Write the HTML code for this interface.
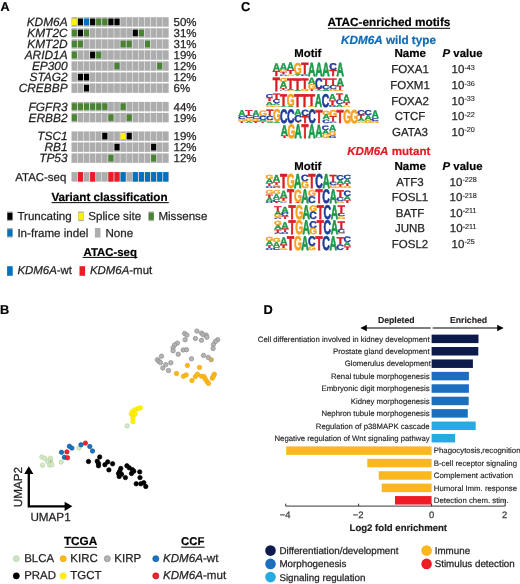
<!DOCTYPE html>
<html lang="en">
<head>
<meta charset="utf-8">
<title>Figure</title>
<style>
html,body{margin:0;padding:0;background:#fff;}
body{width:520px;height:584px;overflow:hidden;}
svg{display:block;font-family:"Liberation Sans", sans-serif;text-rendering:geometricPrecision;filter:blur(0.45px);}
.lg text{vector-effect:non-scaling-stroke;stroke-width:.4px}
.a{fill:#1a9a48;stroke:#1a9a48}.c{fill:#1f3c97;stroke:#1f3c97}.g{fill:#f6a21c;stroke:#f6a21c}.t{fill:#d81f26;stroke:#d81f26}
</style>
</head>
<body>
<svg width="520" height="584" viewBox="0 0 520 584">
<rect width="520" height="584" fill="#ffffff"/>
<g id="panelA">
<text x="0.40" y="11.10" font-size="12.6" font-weight="bold" fill="#000" stroke="#000" stroke-width="0.2">A</text>
<text x="67.60" y="26.20" font-size="11.9" text-anchor="end" font-style="italic" fill="#231f20" stroke="#231f20" stroke-width="0.25">KDM6A</text>
<text x="173.50" y="26.20" font-size="11.5" fill="#231f20" stroke="#231f20" stroke-width="0.25">50%</text>
<rect x="71.50" y="17.20" width="5.65" height="9.45" fill="#adadad"/>
<rect x="77.60" y="17.20" width="5.65" height="9.45" fill="#adadad"/>
<rect x="83.70" y="17.20" width="5.65" height="9.45" fill="#adadad"/>
<rect x="89.80" y="17.20" width="5.65" height="9.45" fill="#adadad"/>
<rect x="95.90" y="17.20" width="5.65" height="9.45" fill="#adadad"/>
<rect x="102.00" y="17.20" width="5.65" height="9.45" fill="#adadad"/>
<rect x="108.10" y="17.20" width="5.65" height="9.45" fill="#adadad"/>
<rect x="114.20" y="17.20" width="5.65" height="9.45" fill="#adadad"/>
<rect x="120.30" y="17.20" width="5.65" height="9.45" fill="#adadad"/>
<rect x="126.40" y="17.20" width="5.65" height="9.45" fill="#adadad"/>
<rect x="132.50" y="17.20" width="5.65" height="9.45" fill="#adadad"/>
<rect x="138.60" y="17.20" width="5.65" height="9.45" fill="#adadad"/>
<rect x="144.70" y="17.20" width="5.65" height="9.45" fill="#adadad"/>
<rect x="150.80" y="17.20" width="5.65" height="9.45" fill="#adadad"/>
<rect x="156.90" y="17.20" width="5.65" height="9.45" fill="#adadad"/>
<rect x="163.00" y="17.20" width="5.65" height="9.45" fill="#adadad"/>
<rect x="71.80" y="18.70" width="5.05" height="6.45" fill="#fff200"/>
<rect x="77.90" y="18.70" width="5.05" height="6.45" fill="#000000"/>
<rect x="84.00" y="18.70" width="5.05" height="6.45" fill="#0071bc"/>
<rect x="90.10" y="18.70" width="5.05" height="6.45" fill="#000000"/>
<rect x="96.20" y="18.70" width="5.05" height="6.45" fill="#488431"/>
<rect x="102.30" y="18.70" width="5.05" height="6.45" fill="#488431"/>
<rect x="108.40" y="18.70" width="5.05" height="6.45" fill="#000000"/>
<rect x="114.50" y="18.70" width="5.05" height="6.45" fill="#000000"/>
<text x="67.60" y="37.25" font-size="11.9" text-anchor="end" font-style="italic" fill="#231f20" stroke="#231f20" stroke-width="0.25">KMT2C</text>
<text x="173.50" y="37.25" font-size="11.5" fill="#231f20" stroke="#231f20" stroke-width="0.25">31%</text>
<rect x="71.50" y="28.25" width="5.65" height="9.45" fill="#adadad"/>
<rect x="77.60" y="28.25" width="5.65" height="9.45" fill="#adadad"/>
<rect x="83.70" y="28.25" width="5.65" height="9.45" fill="#adadad"/>
<rect x="89.80" y="28.25" width="5.65" height="9.45" fill="#adadad"/>
<rect x="95.90" y="28.25" width="5.65" height="9.45" fill="#adadad"/>
<rect x="102.00" y="28.25" width="5.65" height="9.45" fill="#adadad"/>
<rect x="108.10" y="28.25" width="5.65" height="9.45" fill="#adadad"/>
<rect x="114.20" y="28.25" width="5.65" height="9.45" fill="#adadad"/>
<rect x="120.30" y="28.25" width="5.65" height="9.45" fill="#adadad"/>
<rect x="126.40" y="28.25" width="5.65" height="9.45" fill="#adadad"/>
<rect x="132.50" y="28.25" width="5.65" height="9.45" fill="#adadad"/>
<rect x="138.60" y="28.25" width="5.65" height="9.45" fill="#adadad"/>
<rect x="144.70" y="28.25" width="5.65" height="9.45" fill="#adadad"/>
<rect x="150.80" y="28.25" width="5.65" height="9.45" fill="#adadad"/>
<rect x="156.90" y="28.25" width="5.65" height="9.45" fill="#adadad"/>
<rect x="163.00" y="28.25" width="5.65" height="9.45" fill="#adadad"/>
<rect x="71.80" y="29.75" width="5.05" height="6.45" fill="#488431"/>
<rect x="77.90" y="29.75" width="5.05" height="6.45" fill="#000000"/>
<rect x="84.00" y="29.75" width="5.05" height="6.45" fill="#488431"/>
<rect x="132.80" y="29.75" width="5.05" height="6.45" fill="#000000"/>
<rect x="138.90" y="29.75" width="5.05" height="6.45" fill="#488431"/>
<text x="67.60" y="48.30" font-size="11.9" text-anchor="end" font-style="italic" fill="#231f20" stroke="#231f20" stroke-width="0.25">KMT2D</text>
<text x="173.50" y="48.30" font-size="11.5" fill="#231f20" stroke="#231f20" stroke-width="0.25">31%</text>
<rect x="71.50" y="39.30" width="5.65" height="9.45" fill="#adadad"/>
<rect x="77.60" y="39.30" width="5.65" height="9.45" fill="#adadad"/>
<rect x="83.70" y="39.30" width="5.65" height="9.45" fill="#adadad"/>
<rect x="89.80" y="39.30" width="5.65" height="9.45" fill="#adadad"/>
<rect x="95.90" y="39.30" width="5.65" height="9.45" fill="#adadad"/>
<rect x="102.00" y="39.30" width="5.65" height="9.45" fill="#adadad"/>
<rect x="108.10" y="39.30" width="5.65" height="9.45" fill="#adadad"/>
<rect x="114.20" y="39.30" width="5.65" height="9.45" fill="#adadad"/>
<rect x="120.30" y="39.30" width="5.65" height="9.45" fill="#adadad"/>
<rect x="126.40" y="39.30" width="5.65" height="9.45" fill="#adadad"/>
<rect x="132.50" y="39.30" width="5.65" height="9.45" fill="#adadad"/>
<rect x="138.60" y="39.30" width="5.65" height="9.45" fill="#adadad"/>
<rect x="144.70" y="39.30" width="5.65" height="9.45" fill="#adadad"/>
<rect x="150.80" y="39.30" width="5.65" height="9.45" fill="#adadad"/>
<rect x="156.90" y="39.30" width="5.65" height="9.45" fill="#adadad"/>
<rect x="163.00" y="39.30" width="5.65" height="9.45" fill="#adadad"/>
<rect x="71.80" y="40.80" width="5.05" height="6.45" fill="#488431"/>
<rect x="77.90" y="40.80" width="5.05" height="6.45" fill="#488431"/>
<rect x="120.60" y="40.80" width="5.05" height="6.45" fill="#488431"/>
<rect x="126.70" y="40.80" width="5.05" height="6.45" fill="#488431"/>
<rect x="145.00" y="40.80" width="5.05" height="6.45" fill="#488431"/>
<text x="67.60" y="59.30" font-size="11.9" text-anchor="end" font-style="italic" fill="#231f20" stroke="#231f20" stroke-width="0.25">ARID1A</text>
<text x="173.50" y="59.30" font-size="11.5" fill="#231f20" stroke="#231f20" stroke-width="0.25">19%</text>
<rect x="71.50" y="50.30" width="5.65" height="9.45" fill="#adadad"/>
<rect x="77.60" y="50.30" width="5.65" height="9.45" fill="#adadad"/>
<rect x="83.70" y="50.30" width="5.65" height="9.45" fill="#adadad"/>
<rect x="89.80" y="50.30" width="5.65" height="9.45" fill="#adadad"/>
<rect x="95.90" y="50.30" width="5.65" height="9.45" fill="#adadad"/>
<rect x="102.00" y="50.30" width="5.65" height="9.45" fill="#adadad"/>
<rect x="108.10" y="50.30" width="5.65" height="9.45" fill="#adadad"/>
<rect x="114.20" y="50.30" width="5.65" height="9.45" fill="#adadad"/>
<rect x="120.30" y="50.30" width="5.65" height="9.45" fill="#adadad"/>
<rect x="126.40" y="50.30" width="5.65" height="9.45" fill="#adadad"/>
<rect x="132.50" y="50.30" width="5.65" height="9.45" fill="#adadad"/>
<rect x="138.60" y="50.30" width="5.65" height="9.45" fill="#adadad"/>
<rect x="144.70" y="50.30" width="5.65" height="9.45" fill="#adadad"/>
<rect x="150.80" y="50.30" width="5.65" height="9.45" fill="#adadad"/>
<rect x="156.90" y="50.30" width="5.65" height="9.45" fill="#adadad"/>
<rect x="163.00" y="50.30" width="5.65" height="9.45" fill="#adadad"/>
<rect x="71.80" y="51.80" width="5.05" height="6.45" fill="#488431"/>
<rect x="90.10" y="51.80" width="5.05" height="6.45" fill="#000000"/>
<rect x="96.20" y="51.80" width="5.05" height="6.45" fill="#488431"/>
<text x="67.60" y="70.30" font-size="11.9" text-anchor="end" font-style="italic" fill="#231f20" stroke="#231f20" stroke-width="0.25">EP300</text>
<text x="173.50" y="70.30" font-size="11.5" fill="#231f20" stroke="#231f20" stroke-width="0.25">12%</text>
<rect x="71.50" y="61.30" width="5.65" height="9.45" fill="#adadad"/>
<rect x="77.60" y="61.30" width="5.65" height="9.45" fill="#adadad"/>
<rect x="83.70" y="61.30" width="5.65" height="9.45" fill="#adadad"/>
<rect x="89.80" y="61.30" width="5.65" height="9.45" fill="#adadad"/>
<rect x="95.90" y="61.30" width="5.65" height="9.45" fill="#adadad"/>
<rect x="102.00" y="61.30" width="5.65" height="9.45" fill="#adadad"/>
<rect x="108.10" y="61.30" width="5.65" height="9.45" fill="#adadad"/>
<rect x="114.20" y="61.30" width="5.65" height="9.45" fill="#adadad"/>
<rect x="120.30" y="61.30" width="5.65" height="9.45" fill="#adadad"/>
<rect x="126.40" y="61.30" width="5.65" height="9.45" fill="#adadad"/>
<rect x="132.50" y="61.30" width="5.65" height="9.45" fill="#adadad"/>
<rect x="138.60" y="61.30" width="5.65" height="9.45" fill="#adadad"/>
<rect x="144.70" y="61.30" width="5.65" height="9.45" fill="#adadad"/>
<rect x="150.80" y="61.30" width="5.65" height="9.45" fill="#adadad"/>
<rect x="156.90" y="61.30" width="5.65" height="9.45" fill="#adadad"/>
<rect x="163.00" y="61.30" width="5.65" height="9.45" fill="#adadad"/>
<rect x="114.50" y="62.80" width="5.05" height="6.45" fill="#488431"/>
<rect x="157.20" y="62.80" width="5.05" height="6.45" fill="#488431"/>
<text x="67.60" y="81.40" font-size="11.9" text-anchor="end" font-style="italic" fill="#231f20" stroke="#231f20" stroke-width="0.25">STAG2</text>
<text x="173.50" y="81.40" font-size="11.5" fill="#231f20" stroke="#231f20" stroke-width="0.25">12%</text>
<rect x="71.50" y="72.40" width="5.65" height="9.45" fill="#adadad"/>
<rect x="77.60" y="72.40" width="5.65" height="9.45" fill="#adadad"/>
<rect x="83.70" y="72.40" width="5.65" height="9.45" fill="#adadad"/>
<rect x="89.80" y="72.40" width="5.65" height="9.45" fill="#adadad"/>
<rect x="95.90" y="72.40" width="5.65" height="9.45" fill="#adadad"/>
<rect x="102.00" y="72.40" width="5.65" height="9.45" fill="#adadad"/>
<rect x="108.10" y="72.40" width="5.65" height="9.45" fill="#adadad"/>
<rect x="114.20" y="72.40" width="5.65" height="9.45" fill="#adadad"/>
<rect x="120.30" y="72.40" width="5.65" height="9.45" fill="#adadad"/>
<rect x="126.40" y="72.40" width="5.65" height="9.45" fill="#adadad"/>
<rect x="132.50" y="72.40" width="5.65" height="9.45" fill="#adadad"/>
<rect x="138.60" y="72.40" width="5.65" height="9.45" fill="#adadad"/>
<rect x="144.70" y="72.40" width="5.65" height="9.45" fill="#adadad"/>
<rect x="150.80" y="72.40" width="5.65" height="9.45" fill="#adadad"/>
<rect x="156.90" y="72.40" width="5.65" height="9.45" fill="#adadad"/>
<rect x="163.00" y="72.40" width="5.65" height="9.45" fill="#adadad"/>
<rect x="77.90" y="73.90" width="5.05" height="6.45" fill="#000000"/>
<rect x="84.00" y="73.90" width="5.05" height="6.45" fill="#000000"/>
<text x="67.60" y="92.40" font-size="11.9" text-anchor="end" font-style="italic" fill="#231f20" stroke="#231f20" stroke-width="0.25">CREBBP</text>
<text x="173.50" y="92.40" font-size="11.5" fill="#231f20" stroke="#231f20" stroke-width="0.25">6%</text>
<rect x="71.50" y="83.40" width="5.65" height="9.45" fill="#adadad"/>
<rect x="77.60" y="83.40" width="5.65" height="9.45" fill="#adadad"/>
<rect x="83.70" y="83.40" width="5.65" height="9.45" fill="#adadad"/>
<rect x="89.80" y="83.40" width="5.65" height="9.45" fill="#adadad"/>
<rect x="95.90" y="83.40" width="5.65" height="9.45" fill="#adadad"/>
<rect x="102.00" y="83.40" width="5.65" height="9.45" fill="#adadad"/>
<rect x="108.10" y="83.40" width="5.65" height="9.45" fill="#adadad"/>
<rect x="114.20" y="83.40" width="5.65" height="9.45" fill="#adadad"/>
<rect x="120.30" y="83.40" width="5.65" height="9.45" fill="#adadad"/>
<rect x="126.40" y="83.40" width="5.65" height="9.45" fill="#adadad"/>
<rect x="132.50" y="83.40" width="5.65" height="9.45" fill="#adadad"/>
<rect x="138.60" y="83.40" width="5.65" height="9.45" fill="#adadad"/>
<rect x="144.70" y="83.40" width="5.65" height="9.45" fill="#adadad"/>
<rect x="150.80" y="83.40" width="5.65" height="9.45" fill="#adadad"/>
<rect x="156.90" y="83.40" width="5.65" height="9.45" fill="#adadad"/>
<rect x="163.00" y="83.40" width="5.65" height="9.45" fill="#adadad"/>
<rect x="84.00" y="84.90" width="5.05" height="6.45" fill="#000000"/>
<text x="67.60" y="110.90" font-size="11.9" text-anchor="end" font-style="italic" fill="#231f20" stroke="#231f20" stroke-width="0.25">FGFR3</text>
<text x="173.50" y="110.90" font-size="11.5" fill="#231f20" stroke="#231f20" stroke-width="0.25">44%</text>
<rect x="71.50" y="101.90" width="5.65" height="9.45" fill="#adadad"/>
<rect x="77.60" y="101.90" width="5.65" height="9.45" fill="#adadad"/>
<rect x="83.70" y="101.90" width="5.65" height="9.45" fill="#adadad"/>
<rect x="89.80" y="101.90" width="5.65" height="9.45" fill="#adadad"/>
<rect x="95.90" y="101.90" width="5.65" height="9.45" fill="#adadad"/>
<rect x="102.00" y="101.90" width="5.65" height="9.45" fill="#adadad"/>
<rect x="108.10" y="101.90" width="5.65" height="9.45" fill="#adadad"/>
<rect x="114.20" y="101.90" width="5.65" height="9.45" fill="#adadad"/>
<rect x="120.30" y="101.90" width="5.65" height="9.45" fill="#adadad"/>
<rect x="126.40" y="101.90" width="5.65" height="9.45" fill="#adadad"/>
<rect x="132.50" y="101.90" width="5.65" height="9.45" fill="#adadad"/>
<rect x="138.60" y="101.90" width="5.65" height="9.45" fill="#adadad"/>
<rect x="144.70" y="101.90" width="5.65" height="9.45" fill="#adadad"/>
<rect x="150.80" y="101.90" width="5.65" height="9.45" fill="#adadad"/>
<rect x="156.90" y="101.90" width="5.65" height="9.45" fill="#adadad"/>
<rect x="163.00" y="101.90" width="5.65" height="9.45" fill="#adadad"/>
<rect x="71.80" y="103.40" width="5.05" height="6.45" fill="#488431"/>
<rect x="77.90" y="103.40" width="5.05" height="6.45" fill="#488431"/>
<rect x="84.00" y="103.40" width="5.05" height="6.45" fill="#488431"/>
<rect x="90.10" y="103.40" width="5.05" height="6.45" fill="#488431"/>
<rect x="96.20" y="103.40" width="5.05" height="6.45" fill="#488431"/>
<rect x="102.30" y="103.40" width="5.05" height="6.45" fill="#488431"/>
<rect x="120.60" y="103.40" width="5.05" height="6.45" fill="#488431"/>
<text x="67.60" y="121.90" font-size="11.9" text-anchor="end" font-style="italic" fill="#231f20" stroke="#231f20" stroke-width="0.25">ERBB2</text>
<text x="173.50" y="121.90" font-size="11.5" fill="#231f20" stroke="#231f20" stroke-width="0.25">19%</text>
<rect x="71.50" y="112.90" width="5.65" height="9.45" fill="#adadad"/>
<rect x="77.60" y="112.90" width="5.65" height="9.45" fill="#adadad"/>
<rect x="83.70" y="112.90" width="5.65" height="9.45" fill="#adadad"/>
<rect x="89.80" y="112.90" width="5.65" height="9.45" fill="#adadad"/>
<rect x="95.90" y="112.90" width="5.65" height="9.45" fill="#adadad"/>
<rect x="102.00" y="112.90" width="5.65" height="9.45" fill="#adadad"/>
<rect x="108.10" y="112.90" width="5.65" height="9.45" fill="#adadad"/>
<rect x="114.20" y="112.90" width="5.65" height="9.45" fill="#adadad"/>
<rect x="120.30" y="112.90" width="5.65" height="9.45" fill="#adadad"/>
<rect x="126.40" y="112.90" width="5.65" height="9.45" fill="#adadad"/>
<rect x="132.50" y="112.90" width="5.65" height="9.45" fill="#adadad"/>
<rect x="138.60" y="112.90" width="5.65" height="9.45" fill="#adadad"/>
<rect x="144.70" y="112.90" width="5.65" height="9.45" fill="#adadad"/>
<rect x="150.80" y="112.90" width="5.65" height="9.45" fill="#adadad"/>
<rect x="156.90" y="112.90" width="5.65" height="9.45" fill="#adadad"/>
<rect x="163.00" y="112.90" width="5.65" height="9.45" fill="#adadad"/>
<rect x="71.80" y="114.40" width="5.05" height="6.45" fill="#488431"/>
<rect x="108.40" y="114.40" width="5.05" height="6.45" fill="#488431"/>
<rect x="126.70" y="114.40" width="5.05" height="6.45" fill="#488431"/>
<text x="67.60" y="140.40" font-size="11.9" text-anchor="end" font-style="italic" fill="#231f20" stroke="#231f20" stroke-width="0.25">TSC1</text>
<text x="173.50" y="140.40" font-size="11.5" fill="#231f20" stroke="#231f20" stroke-width="0.25">19%</text>
<rect x="71.50" y="131.40" width="5.65" height="9.45" fill="#adadad"/>
<rect x="77.60" y="131.40" width="5.65" height="9.45" fill="#adadad"/>
<rect x="83.70" y="131.40" width="5.65" height="9.45" fill="#adadad"/>
<rect x="89.80" y="131.40" width="5.65" height="9.45" fill="#adadad"/>
<rect x="95.90" y="131.40" width="5.65" height="9.45" fill="#adadad"/>
<rect x="102.00" y="131.40" width="5.65" height="9.45" fill="#adadad"/>
<rect x="108.10" y="131.40" width="5.65" height="9.45" fill="#adadad"/>
<rect x="114.20" y="131.40" width="5.65" height="9.45" fill="#adadad"/>
<rect x="120.30" y="131.40" width="5.65" height="9.45" fill="#adadad"/>
<rect x="126.40" y="131.40" width="5.65" height="9.45" fill="#adadad"/>
<rect x="132.50" y="131.40" width="5.65" height="9.45" fill="#adadad"/>
<rect x="138.60" y="131.40" width="5.65" height="9.45" fill="#adadad"/>
<rect x="144.70" y="131.40" width="5.65" height="9.45" fill="#adadad"/>
<rect x="150.80" y="131.40" width="5.65" height="9.45" fill="#adadad"/>
<rect x="156.90" y="131.40" width="5.65" height="9.45" fill="#adadad"/>
<rect x="163.00" y="131.40" width="5.65" height="9.45" fill="#adadad"/>
<rect x="102.30" y="132.90" width="5.05" height="6.45" fill="#000000"/>
<rect x="120.60" y="132.90" width="5.05" height="6.45" fill="#fff200"/>
<rect x="126.70" y="132.90" width="5.05" height="6.45" fill="#000000"/>
<text x="67.60" y="151.40" font-size="11.9" text-anchor="end" font-style="italic" fill="#231f20" stroke="#231f20" stroke-width="0.25">RB1</text>
<text x="173.50" y="151.40" font-size="11.5" fill="#231f20" stroke="#231f20" stroke-width="0.25">12%</text>
<rect x="71.50" y="142.40" width="5.65" height="9.45" fill="#adadad"/>
<rect x="77.60" y="142.40" width="5.65" height="9.45" fill="#adadad"/>
<rect x="83.70" y="142.40" width="5.65" height="9.45" fill="#adadad"/>
<rect x="89.80" y="142.40" width="5.65" height="9.45" fill="#adadad"/>
<rect x="95.90" y="142.40" width="5.65" height="9.45" fill="#adadad"/>
<rect x="102.00" y="142.40" width="5.65" height="9.45" fill="#adadad"/>
<rect x="108.10" y="142.40" width="5.65" height="9.45" fill="#adadad"/>
<rect x="114.20" y="142.40" width="5.65" height="9.45" fill="#adadad"/>
<rect x="120.30" y="142.40" width="5.65" height="9.45" fill="#adadad"/>
<rect x="126.40" y="142.40" width="5.65" height="9.45" fill="#adadad"/>
<rect x="132.50" y="142.40" width="5.65" height="9.45" fill="#adadad"/>
<rect x="138.60" y="142.40" width="5.65" height="9.45" fill="#adadad"/>
<rect x="144.70" y="142.40" width="5.65" height="9.45" fill="#adadad"/>
<rect x="150.80" y="142.40" width="5.65" height="9.45" fill="#adadad"/>
<rect x="156.90" y="142.40" width="5.65" height="9.45" fill="#adadad"/>
<rect x="163.00" y="142.40" width="5.65" height="9.45" fill="#adadad"/>
<rect x="114.50" y="143.90" width="5.05" height="6.45" fill="#000000"/>
<rect x="151.10" y="143.90" width="5.05" height="6.45" fill="#000000"/>
<text x="67.60" y="162.40" font-size="11.9" text-anchor="end" font-style="italic" fill="#231f20" stroke="#231f20" stroke-width="0.25">TP53</text>
<text x="173.50" y="162.40" font-size="11.5" fill="#231f20" stroke="#231f20" stroke-width="0.25">12%</text>
<rect x="71.50" y="153.40" width="5.65" height="9.45" fill="#adadad"/>
<rect x="77.60" y="153.40" width="5.65" height="9.45" fill="#adadad"/>
<rect x="83.70" y="153.40" width="5.65" height="9.45" fill="#adadad"/>
<rect x="89.80" y="153.40" width="5.65" height="9.45" fill="#adadad"/>
<rect x="95.90" y="153.40" width="5.65" height="9.45" fill="#adadad"/>
<rect x="102.00" y="153.40" width="5.65" height="9.45" fill="#adadad"/>
<rect x="108.10" y="153.40" width="5.65" height="9.45" fill="#adadad"/>
<rect x="114.20" y="153.40" width="5.65" height="9.45" fill="#adadad"/>
<rect x="120.30" y="153.40" width="5.65" height="9.45" fill="#adadad"/>
<rect x="126.40" y="153.40" width="5.65" height="9.45" fill="#adadad"/>
<rect x="132.50" y="153.40" width="5.65" height="9.45" fill="#adadad"/>
<rect x="138.60" y="153.40" width="5.65" height="9.45" fill="#adadad"/>
<rect x="144.70" y="153.40" width="5.65" height="9.45" fill="#adadad"/>
<rect x="150.80" y="153.40" width="5.65" height="9.45" fill="#adadad"/>
<rect x="156.90" y="153.40" width="5.65" height="9.45" fill="#adadad"/>
<rect x="163.00" y="153.40" width="5.65" height="9.45" fill="#adadad"/>
<rect x="108.40" y="154.90" width="5.05" height="6.45" fill="#488431"/>
<rect x="151.10" y="154.90" width="5.05" height="6.45" fill="#488431"/>
<text x="66.30" y="180.70" font-size="11.45" text-anchor="end" fill="#231f20" stroke="#231f20" stroke-width="0.25">ATAC-seq</text>
<rect x="71.50" y="172.10" width="5.65" height="9.50" fill="#adadad"/>
<rect x="77.60" y="172.10" width="5.65" height="9.50" fill="#adadad"/>
<rect x="77.90" y="172.10" width="5.05" height="9.50" fill="#ed1c24"/>
<rect x="83.70" y="172.10" width="5.65" height="9.50" fill="#adadad"/>
<rect x="89.80" y="172.10" width="5.65" height="9.50" fill="#adadad"/>
<rect x="90.10" y="172.10" width="5.05" height="9.50" fill="#ed1c24"/>
<rect x="95.90" y="172.10" width="5.65" height="9.50" fill="#adadad"/>
<rect x="102.00" y="172.10" width="5.65" height="9.50" fill="#adadad"/>
<rect x="108.10" y="172.10" width="5.65" height="9.50" fill="#adadad"/>
<rect x="108.40" y="172.10" width="5.05" height="9.50" fill="#ed1c24"/>
<rect x="114.20" y="172.10" width="5.65" height="9.50" fill="#adadad"/>
<rect x="114.50" y="172.10" width="5.05" height="9.50" fill="#ed1c24"/>
<rect x="120.30" y="172.10" width="5.65" height="9.50" fill="#adadad"/>
<rect x="120.60" y="172.10" width="5.05" height="9.50" fill="#0071bc"/>
<rect x="126.40" y="172.10" width="5.65" height="9.50" fill="#adadad"/>
<rect x="132.50" y="172.10" width="5.65" height="9.50" fill="#adadad"/>
<rect x="132.80" y="172.10" width="5.05" height="9.50" fill="#0071bc"/>
<rect x="138.60" y="172.10" width="5.65" height="9.50" fill="#adadad"/>
<rect x="138.90" y="172.10" width="5.05" height="9.50" fill="#0071bc"/>
<rect x="144.70" y="172.10" width="5.65" height="9.50" fill="#adadad"/>
<rect x="145.00" y="172.10" width="5.05" height="9.50" fill="#0071bc"/>
<rect x="150.80" y="172.10" width="5.65" height="9.50" fill="#adadad"/>
<rect x="151.10" y="172.10" width="5.05" height="9.50" fill="#0071bc"/>
<rect x="156.90" y="172.10" width="5.65" height="9.50" fill="#adadad"/>
<rect x="157.20" y="172.10" width="5.05" height="9.50" fill="#0071bc"/>
<rect x="163.00" y="172.10" width="5.65" height="9.50" fill="#adadad"/>
<rect x="163.30" y="172.10" width="5.05" height="9.50" fill="#0071bc"/>
<text x="109.50" y="200.50" font-size="11.68" text-anchor="middle" font-weight="bold" fill="#000" stroke="#000" stroke-width="0.2">Variant classification</text>
<line x1="51.60" y1="202.65" x2="168.80" y2="202.65" stroke="#000" stroke-width="1.0"/>
<rect x="7.10" y="211.50" width="5.60" height="9.60" fill="#adadad"/>
<rect x="7.40" y="212.80" width="5.00" height="7.00" fill="#000000"/>
<text x="17.40" y="220.10" font-size="11.6" fill="#231f20" stroke="#231f20" stroke-width="0.25">Truncating</text>
<rect x="78.10" y="211.50" width="5.60" height="9.60" fill="#adadad"/>
<rect x="78.40" y="212.80" width="5.00" height="7.00" fill="#fff200"/>
<text x="88.30" y="220.10" font-size="11.6" fill="#231f20" stroke="#231f20" stroke-width="0.25">Splice site</text>
<rect x="148.40" y="211.50" width="5.60" height="9.60" fill="#adadad"/>
<rect x="148.70" y="212.80" width="5.00" height="7.00" fill="#488431"/>
<text x="158.40" y="220.10" font-size="11.6" fill="#231f20" stroke="#231f20" stroke-width="0.25">Missense</text>
<rect x="7.10" y="228.00" width="5.60" height="9.60" fill="#adadad"/>
<rect x="7.40" y="229.30" width="5.00" height="7.00" fill="#0071bc"/>
<text x="17.40" y="236.60" font-size="11.6" fill="#231f20" stroke="#231f20" stroke-width="0.25">In-frame indel</text>
<rect x="94.90" y="228.00" width="5.60" height="9.60" fill="#adadad"/>
<text x="105.40" y="236.60" font-size="11.6" fill="#231f20" stroke="#231f20" stroke-width="0.25">None</text>
<text x="110.20" y="255.70" font-size="11.4" text-anchor="middle" font-weight="bold" fill="#000" stroke="#000" stroke-width="0.2">ATAC-seq</text>
<line x1="82.70" y1="257.40" x2="137.40" y2="257.40" stroke="#000" stroke-width="1.0"/>
<rect x="7.10" y="266.20" width="5.60" height="9.60" fill="#0071bc"/>
<text x="17.40" y="274.40" font-size="11.45" fill="#231f20" stroke="#231f20" stroke-width="0.25"><tspan font-style="italic">KDM6A</tspan>-wt</text>
<rect x="79.50" y="266.20" width="5.60" height="9.60" fill="#ed1c24"/>
<text x="89.90" y="274.40" font-size="11.45" fill="#231f20" stroke="#231f20" stroke-width="0.25"><tspan font-style="italic">KDM6A</tspan>-mut</text>
</g>
<g id="panelB">
<text x="0.00" y="314.00" font-size="12.8" font-weight="bold" fill="#000" stroke="#000" stroke-width="0.2">B</text>
<g fill="#b4b4b4" stroke="#8b8b8b" stroke-width="0.7">
<circle cx="184.6" cy="333.5" r="2.2"/>
<circle cx="186.9" cy="335.1" r="2.2"/>
<circle cx="185.1" cy="339.7" r="2.2"/>
<circle cx="196.9" cy="331.1" r="2.2"/>
<circle cx="201.5" cy="333.1" r="2.2"/>
<circle cx="203.1" cy="334.6" r="2.2"/>
<circle cx="206.2" cy="335.1" r="2.2"/>
<circle cx="206.9" cy="337.2" r="2.2"/>
<circle cx="195.4" cy="338.5" r="2.2"/>
<circle cx="201.5" cy="340.3" r="2.2"/>
<circle cx="217.7" cy="339.7" r="2.2"/>
<circle cx="215.4" cy="341.5" r="2.2"/>
<circle cx="213.4" cy="344.6" r="2.2"/>
<circle cx="213.1" cy="348.5" r="2.2"/>
<circle cx="177.4" cy="343.1" r="2.2"/>
<circle cx="174.6" cy="344.9" r="2.2"/>
<circle cx="173.1" cy="347.7" r="2.2"/>
<circle cx="173.1" cy="350.8" r="2.2"/>
<circle cx="178.2" cy="354.2" r="2.2"/>
<circle cx="183.1" cy="350.0" r="2.2"/>
<circle cx="186.5" cy="349.7" r="2.2"/>
<circle cx="191.5" cy="358.8" r="2.2"/>
<circle cx="203.5" cy="355.4" r="2.2"/>
<circle cx="208.2" cy="357.4" r="2.2"/>
<circle cx="161.5" cy="356.2" r="2.2"/>
<circle cx="157.4" cy="359.7" r="2.2"/>
<circle cx="158.9" cy="361.5" r="2.2"/>
<circle cx="160.5" cy="362.6" r="2.2"/>
<circle cx="165.8" cy="364.6" r="2.2"/>
<circle cx="170.8" cy="362.8" r="2.2"/>
<circle cx="162.8" cy="368.0" r="2.2"/>
<circle cx="168.5" cy="370.5" r="2.2"/>
</g>
<g fill="#cdb06a" stroke="#b0955a" stroke-width="0.7">
<circle cx="211.2" cy="359.7" r="2.2"/>
</g>
<g fill="#fdbb18" stroke="#eea210" stroke-width="0.7">
<circle cx="187.4" cy="365.4" r="2.2"/>
<circle cx="199.5" cy="367.4" r="2.2"/>
<circle cx="176.5" cy="373.5" r="2.2"/>
<circle cx="183.5" cy="376.2" r="2.2"/>
<circle cx="186.2" cy="374.9" r="2.2"/>
<circle cx="192.0" cy="380.5" r="2.2"/>
<circle cx="195.4" cy="376.6" r="2.2"/>
<circle cx="197.4" cy="374.2" r="2.2"/>
<circle cx="201.5" cy="376.2" r="2.2"/>
<circle cx="204.2" cy="376.6" r="2.2"/>
<circle cx="205.4" cy="379.2" r="2.2"/>
<circle cx="206.9" cy="381.5" r="2.2"/>
<circle cx="208.5" cy="383.4" r="2.2"/>
<circle cx="212.3" cy="378.2" r="2.2"/>
<circle cx="214.3" cy="374.2" r="2.2"/>
<circle cx="213.4" cy="376.2" r="2.2"/>
</g>
<g fill="#fff200" stroke="#f3e300" stroke-width="0.7">
<circle cx="140.4" cy="407.9" r="2.2"/>
<circle cx="137.5" cy="408.8" r="2.2"/>
<circle cx="134.6" cy="410.0" r="2.2"/>
<circle cx="132.3" cy="411.7" r="2.2"/>
<circle cx="131.2" cy="414.0" r="2.2"/>
<circle cx="133.5" cy="415.2" r="2.2"/>
<circle cx="135.2" cy="414.0" r="2.2"/>
<circle cx="132.9" cy="418.1" r="2.2"/>
<circle cx="132.9" cy="421.5" r="2.2"/>
</g>
<g fill="#d5e8ca" stroke="#b4d5a2" stroke-width="0.7">
<circle cx="41.8" cy="457.0" r="2.2"/>
<circle cx="44.6" cy="458.2" r="2.2"/>
<circle cx="42.6" cy="465.2" r="2.2"/>
<circle cx="47.5" cy="461.2" r="2.2"/>
<circle cx="50.4" cy="458.2" r="2.2"/>
<circle cx="50.6" cy="461.2" r="2.2"/>
<circle cx="49.6" cy="465.0" r="2.2"/>
<circle cx="51.8" cy="464.8" r="2.2"/>
<circle cx="61.2" cy="462.0" r="2.2"/>
<circle cx="79.0" cy="448.1" r="2.2"/>
<circle cx="127.1" cy="425.9" r="2.2"/>
</g>
<circle cx="50.7" cy="461.3" r="0.8" fill="#a9825a"/>
<g fill="#1575c6" stroke="#17588f" stroke-width="0.7">
<circle cx="61.5" cy="452.3" r="2.2"/>
<circle cx="64.4" cy="457.3" r="2.2"/>
<circle cx="69.4" cy="446.3" r="2.2"/>
<circle cx="71.9" cy="448.1" r="2.2"/>
<circle cx="81.0" cy="444.8" r="2.2"/>
<circle cx="89.8" cy="446.5" r="2.2"/>
<circle cx="92.5" cy="451.0" r="2.2"/>
</g>
<g fill="#ea2630" stroke="#c2171e" stroke-width="0.7">
<circle cx="66.9" cy="451.9" r="2.2"/>
<circle cx="67.5" cy="457.8" r="2.2"/>
<circle cx="85.4" cy="443.1" r="2.2"/>
</g>
<g fill="#000" stroke="#000" stroke-width="0.7">
<circle cx="88.5" cy="461.5" r="2.2"/>
<circle cx="99.7" cy="457.0" r="2.2"/>
<circle cx="97.2" cy="461.2" r="2.2"/>
<circle cx="98.5" cy="463.5" r="2.2"/>
<circle cx="98.5" cy="465.8" r="2.2"/>
<circle cx="104.9" cy="464.7" r="2.2"/>
<circle cx="107.7" cy="461.9" r="2.2"/>
<circle cx="112.6" cy="463.8" r="2.2"/>
<circle cx="108.9" cy="469.9" r="2.2"/>
<circle cx="120.8" cy="468.4" r="2.2"/>
<circle cx="119.7" cy="471.2" r="2.2"/>
<circle cx="118.5" cy="473.5" r="2.2"/>
<circle cx="121.5" cy="474.2" r="2.2"/>
<circle cx="119.2" cy="476.5" r="2.2"/>
<circle cx="125.4" cy="477.6" r="2.2"/>
<circle cx="126.9" cy="465.8" r="2.2"/>
<circle cx="129.2" cy="467.8" r="2.2"/>
<circle cx="132.3" cy="469.6" r="2.2"/>
<circle cx="133.8" cy="471.2" r="2.2"/>
<circle cx="131.5" cy="473.5" r="2.2"/>
<circle cx="139.7" cy="471.9" r="2.2"/>
<circle cx="140.0" cy="477.6" r="2.2"/>
<circle cx="136.2" cy="483.8" r="2.2"/>
<circle cx="140.8" cy="483.8" r="2.2"/>
<circle cx="143.8" cy="482.7" r="2.2"/>
<circle cx="145.8" cy="486.5" r="2.2"/>
</g>
<path d="M28.8 472 V506.3 H66" fill="none" stroke="#000" stroke-width="2.3"/>
<path d="M28.8 466.2 L33.4 474 H24.2 Z" fill="#000"/>
<path d="M72.4 506.3 L64.6 501.7 V510.9 Z" fill="#000"/>
<text x="0.00" y="0.00" font-size="11.7" fill="#231f20" stroke="#231f20" stroke-width="0.25" transform="translate(22.3,507.3) rotate(-90)">UMAP2</text>
<text x="30.40" y="521.30" font-size="11.7" fill="#231f20" stroke="#231f20" stroke-width="0.25">UMAP1</text>
<text x="80.60" y="545.30" font-size="11.8" text-anchor="middle" font-weight="bold" fill="#000" stroke="#000" stroke-width="0.2">TCGA</text>
<line x1="64.60" y1="547.30" x2="96.90" y2="547.30" stroke="#000" stroke-width="1.0"/>
<text x="192.70" y="545.30" font-size="11.3" text-anchor="middle" font-weight="bold" fill="#000" stroke="#000" stroke-width="0.2">CCF</text>
<line x1="181.20" y1="547.20" x2="204.60" y2="547.20" stroke="#000" stroke-width="1.0"/>
<g fill="#cfe4c3" stroke="#b4d5a2" stroke-width="0.7">
<circle cx="16.3" cy="558.7" r="3.05"/>
</g>
<text x="24.20" y="562.00" font-size="11.45" fill="#231f20" stroke="#231f20" stroke-width="0.25">BLCA</text>
<g fill="#fdbb18" stroke="#eea210" stroke-width="0.7">
<circle cx="63.2" cy="558.7" r="3.05"/>
</g>
<text x="70.30" y="562.20" font-size="11.5" fill="#231f20" stroke="#231f20" stroke-width="0.25">KIRC</text>
<g fill="#b4b4b4" stroke="#8b8b8b" stroke-width="0.7">
<circle cx="107.3" cy="558.7" r="3.05"/>
</g>
<text x="114.30" y="562.20" font-size="11.5" fill="#231f20" stroke="#231f20" stroke-width="0.25">KIRP</text>
<g fill="#1575c6" stroke="#17588f" stroke-width="0.7">
<circle cx="155.8" cy="558.7" r="3.05"/>
</g>
<text x="163.00" y="562.40" font-size="11.6" fill="#231f20" stroke="#231f20" stroke-width="0.25"><tspan font-style="italic">KDM6A</tspan>-wt</text>
<g fill="#000" stroke="#000" stroke-width="0.7">
<circle cx="16.3" cy="575.9" r="3.05"/>
</g>
<text x="24.20" y="579.10" font-size="11.45" fill="#231f20" stroke="#231f20" stroke-width="0.25">PRAD</text>
<g fill="#fff200" stroke="#f3e300" stroke-width="0.7">
<circle cx="63.2" cy="575.9" r="3.05"/>
</g>
<text x="70.30" y="579.20" font-size="11.5" fill="#231f20" stroke="#231f20" stroke-width="0.25">TGCT</text>
<g fill="#ea2630" stroke="#c2171e" stroke-width="0.7">
<circle cx="155.8" cy="575.9" r="3.05"/>
</g>
<text x="163.00" y="579.30" font-size="11.6" fill="#231f20" stroke="#231f20" stroke-width="0.25"><tspan font-style="italic">KDM6A</tspan>-mut</text>
</g>
<g id="panelC">
<text x="241.10" y="11.10" font-size="12.8" font-weight="bold" fill="#000" stroke="#000" stroke-width="0.2">C</text>
<text x="389.00" y="25.80" font-size="11.8" text-anchor="middle" font-weight="bold" fill="#000" stroke="#000" stroke-width="0.2">ATAC-enriched motifs</text>
<line x1="327.90" y1="28.30" x2="450.20" y2="28.30" stroke="#000" stroke-width="1.0"/>
<text x="388.50" y="43.50" font-size="11.7" text-anchor="middle" font-weight="bold" fill="#0b6bb8" stroke="#0b6bb8" stroke-width="0.2"><tspan font-style="italic">KDM6A</tspan> wild type</text>
<text x="388.80" y="154.80" font-size="11.6" text-anchor="middle" font-weight="bold" fill="#e01b22" stroke="#e01b22" stroke-width="0.2"><tspan font-style="italic">KDM6A</tspan> mutant</text>
<text x="307.80" y="57.30" font-size="11.4" text-anchor="middle" font-weight="bold" fill="#000" stroke="#000" stroke-width="0.2">Motif</text>
<text x="410.20" y="57.30" font-size="11.6" text-anchor="middle" font-weight="bold" fill="#000" stroke="#000" stroke-width="0.2">Name</text>
<text x="442.60" y="57.30" font-size="11.4" font-weight="bold" fill="#000" stroke="#000" stroke-width="0.2"><tspan font-style="italic">P</tspan> value</text>
<text x="307.80" y="170.00" font-size="11.4" text-anchor="middle" font-weight="bold" fill="#000" stroke="#000" stroke-width="0.2">Motif</text>
<text x="410.20" y="170.00" font-size="11.6" text-anchor="middle" font-weight="bold" fill="#000" stroke="#000" stroke-width="0.2">Name</text>
<text x="442.60" y="170.00" font-size="11.4" font-weight="bold" fill="#000" stroke="#000" stroke-width="0.2"><tspan font-style="italic">P</tspan> value</text>
<text x="410.00" y="73.30" font-size="11.5" text-anchor="middle" fill="#231f20" stroke="#231f20" stroke-width="0.25">FOXA1</text>
<text x="463.20" y="73.30" font-size="11.5" text-anchor="middle" fill="#231f20" stroke="#231f20" stroke-width="0.25">10<tspan font-size="7.2" dy="-3.4" stroke-width="0.12">-43</tspan></text>
<text x="410.00" y="88.90" font-size="11.5" text-anchor="middle" fill="#231f20" stroke="#231f20" stroke-width="0.25">FOXM1</text>
<text x="463.20" y="88.90" font-size="11.5" text-anchor="middle" fill="#231f20" stroke="#231f20" stroke-width="0.25">10<tspan font-size="7.2" dy="-3.4" stroke-width="0.12">-36</tspan></text>
<text x="410.00" y="104.50" font-size="11.5" text-anchor="middle" fill="#231f20" stroke="#231f20" stroke-width="0.25">FOXA2</text>
<text x="463.20" y="104.50" font-size="11.5" text-anchor="middle" fill="#231f20" stroke="#231f20" stroke-width="0.25">10<tspan font-size="7.2" dy="-3.4" stroke-width="0.12">-33</tspan></text>
<text x="410.00" y="120.10" font-size="11.5" text-anchor="middle" fill="#231f20" stroke="#231f20" stroke-width="0.25">CTCF</text>
<text x="463.20" y="120.10" font-size="11.5" text-anchor="middle" fill="#231f20" stroke="#231f20" stroke-width="0.25">10<tspan font-size="7.2" dy="-3.4" stroke-width="0.12">-22</tspan></text>
<text x="410.00" y="135.70" font-size="11.5" text-anchor="middle" fill="#231f20" stroke="#231f20" stroke-width="0.25">GATA3</text>
<text x="463.20" y="135.70" font-size="11.5" text-anchor="middle" fill="#231f20" stroke="#231f20" stroke-width="0.25">10<tspan font-size="7.2" dy="-3.4" stroke-width="0.12">-20</tspan></text>
<text x="410.00" y="185.50" font-size="11.5" text-anchor="middle" fill="#231f20" stroke="#231f20" stroke-width="0.25">ATF3</text>
<text x="463.20" y="185.50" font-size="11.5" text-anchor="middle" fill="#231f20" stroke="#231f20" stroke-width="0.25">10<tspan font-size="7.2" dy="-3.4" stroke-width="0.12">-228</tspan></text>
<text x="410.00" y="201.00" font-size="11.5" text-anchor="middle" fill="#231f20" stroke="#231f20" stroke-width="0.25">FOSL1</text>
<text x="463.20" y="201.00" font-size="11.5" text-anchor="middle" fill="#231f20" stroke="#231f20" stroke-width="0.25">10<tspan font-size="7.2" dy="-3.4" stroke-width="0.12">-218</tspan></text>
<text x="410.00" y="216.50" font-size="11.5" text-anchor="middle" fill="#231f20" stroke="#231f20" stroke-width="0.25">BATF</text>
<text x="463.20" y="216.50" font-size="11.5" text-anchor="middle" fill="#231f20" stroke="#231f20" stroke-width="0.25">10<tspan font-size="7.2" dy="-3.4" stroke-width="0.12">-211</tspan></text>
<text x="410.00" y="232.00" font-size="11.5" text-anchor="middle" fill="#231f20" stroke="#231f20" stroke-width="0.25">JUNB</text>
<text x="463.20" y="232.00" font-size="11.5" text-anchor="middle" fill="#231f20" stroke="#231f20" stroke-width="0.25">10<tspan font-size="7.2" dy="-3.4" stroke-width="0.12">-211</tspan></text>
<text x="410.00" y="247.50" font-size="11.5" text-anchor="middle" fill="#231f20" stroke="#231f20" stroke-width="0.25">FOSL2</text>
<text x="463.20" y="247.50" font-size="11.5" text-anchor="middle" fill="#231f20" stroke="#231f20" stroke-width="0.25">10<tspan font-size="7.2" dy="-3.4" stroke-width="0.12">-25</tspan></text>
<g class="lg" font-size="10" font-weight="bold">
<text class="a" transform="translate(272.90,70.72) scale(1.027,1.104)" x="-0.25">A</text>
<text class="t" transform="translate(272.90,75.70) scale(1.170,0.724)" x="-0.11">T</text>
<text class="a" transform="translate(279.99,69.81) scale(1.027,0.990)" x="-0.25">A</text>
<text class="g" transform="translate(279.99,72.43) scale(1.021,0.381)" x="-0.41">G</text>
<text class="t" transform="translate(279.99,74.39) scale(1.170,0.286)" x="-0.11">T</text>
<text class="c" transform="translate(279.99,75.70) scale(1.054,0.190)" x="-0.41">C</text>
<text class="a" transform="translate(287.08,70.46) scale(1.027,1.104)" x="-0.25">A</text>
<text class="t" transform="translate(287.08,74.39) scale(1.170,0.571)" x="-0.11">T</text>
<text class="g" transform="translate(287.08,75.70) scale(1.021,0.190)" x="-0.41">G</text>
<text class="g" transform="translate(294.17,73.60) scale(1.021,1.561)" x="-0.41">G</text>
<text class="a" transform="translate(294.17,74.91) scale(1.027,0.190)" x="-0.25">A</text>
<text class="t" transform="translate(294.17,75.70) scale(1.170,0.114)" x="-0.11">T</text>
<text class="t" transform="translate(301.26,74.00) scale(1.170,1.618)" x="-0.11">T</text>
<text class="c" transform="translate(301.26,75.70) scale(1.054,0.248)" x="-0.41">C</text>
<text class="a" transform="translate(308.35,75.70) scale(1.027,1.904)" x="-0.25">A</text>
<text class="a" transform="translate(315.44,75.70) scale(1.027,1.904)" x="-0.25">A</text>
<text class="a" transform="translate(322.53,75.70) scale(1.027,1.904)" x="-0.25">A</text>
<text class="c" transform="translate(329.62,69.67) scale(1.054,0.990)" x="-0.41">C</text>
<text class="t" transform="translate(329.62,75.70) scale(1.170,0.876)" x="-0.11">T</text>
<text class="a" transform="translate(336.71,75.70) scale(1.027,1.904)" x="-0.25">A</text>
<text class="t" transform="translate(272.90,91.00) scale(1.170,1.919)" x="-0.11">T</text>
<text class="g" transform="translate(279.99,81.89) scale(1.021,0.576)" x="-0.41">G</text>
<text class="a" transform="translate(279.99,88.49) scale(1.027,0.959)" x="-0.25">A</text>
<text class="t" transform="translate(279.99,90.47) scale(1.170,0.288)" x="-0.11">T</text>
<text class="c" transform="translate(279.99,91.00) scale(1.054,0.077)" x="-0.41">C</text>
<text class="t" transform="translate(287.08,88.62) scale(1.170,1.535)" x="-0.11">T</text>
<text class="a" transform="translate(287.08,89.94) scale(1.027,0.192)" x="-0.25">A</text>
<text class="g" transform="translate(287.08,91.00) scale(1.021,0.153)" x="-0.41">G</text>
<text class="t" transform="translate(294.17,89.68) scale(1.170,1.669)" x="-0.11">T</text>
<text class="a" transform="translate(294.17,91.00) scale(1.027,0.192)" x="-0.25">A</text>
<text class="t" transform="translate(301.26,88.76) scale(1.170,1.535)" x="-0.11">T</text>
<text class="g" transform="translate(301.26,91.00) scale(1.021,0.326)" x="-0.41">G</text>
<text class="a" transform="translate(308.35,84.40) scale(1.027,0.921)" x="-0.25">A</text>
<text class="g" transform="translate(308.35,89.28) scale(1.021,0.710)" x="-0.41">G</text>
<text class="t" transform="translate(308.35,91.00) scale(1.170,0.249)" x="-0.11">T</text>
<text class="c" transform="translate(315.44,88.89) scale(1.054,1.573)" x="-0.41">C</text>
<text class="t" transform="translate(315.44,90.21) scale(1.170,0.192)" x="-0.11">T</text>
<text class="a" transform="translate(315.44,91.00) scale(1.027,0.115)" x="-0.25">A</text>
<text class="t" transform="translate(322.53,84.80) scale(1.170,0.959)" x="-0.11">T</text>
<text class="c" transform="translate(322.53,88.76) scale(1.054,0.576)" x="-0.41">C</text>
<text class="a" transform="translate(322.53,91.00) scale(1.027,0.326)" x="-0.25">A</text>
<text class="t" transform="translate(329.62,84.80) scale(1.170,0.959)" x="-0.11">T</text>
<text class="c" transform="translate(329.62,88.76) scale(1.054,0.576)" x="-0.41">C</text>
<text class="g" transform="translate(329.62,91.00) scale(1.021,0.326)" x="-0.41">G</text>
<text class="a" transform="translate(336.71,85.72) scale(1.027,1.113)" x="-0.25">A</text>
<text class="t" transform="translate(336.71,90.08) scale(1.170,0.633)" x="-0.11">T</text>
<text class="g" transform="translate(336.71,91.00) scale(1.021,0.134)" x="-0.41">G</text>
<text class="c" transform="translate(266.10,98.08) scale(1.040,0.571)" x="-0.41">C</text>
<text class="t" transform="translate(266.10,101.36) scale(1.155,0.476)" x="-0.11">T</text>
<text class="a" transform="translate(266.10,104.63) scale(1.014,0.476)" x="-0.25">A</text>
<text class="g" transform="translate(266.10,106.60) scale(1.008,0.286)" x="-0.41">G</text>
<text class="t" transform="translate(273.10,99.39) scale(1.155,0.762)" x="-0.11">T</text>
<text class="c" transform="translate(273.10,103.32) scale(1.040,0.571)" x="-0.41">C</text>
<text class="a" transform="translate(273.10,105.29) scale(1.014,0.286)" x="-0.25">A</text>
<text class="g" transform="translate(273.10,106.60) scale(1.008,0.190)" x="-0.41">G</text>
<text class="t" transform="translate(280.10,105.55) scale(1.155,1.714)" x="-0.11">T</text>
<text class="a" transform="translate(280.10,106.60) scale(1.014,0.152)" x="-0.25">A</text>
<text class="g" transform="translate(287.10,105.55) scale(1.008,1.714)" x="-0.41">G</text>
<text class="a" transform="translate(287.10,106.60) scale(1.014,0.152)" x="-0.25">A</text>
<text class="t" transform="translate(294.10,106.60) scale(1.155,1.847)" x="-0.11">T</text>
<text class="t" transform="translate(301.10,106.60) scale(1.155,1.847)" x="-0.11">T</text>
<text class="t" transform="translate(308.10,105.55) scale(1.155,1.714)" x="-0.11">T</text>
<text class="g" transform="translate(308.10,106.60) scale(1.008,0.152)" x="-0.41">G</text>
<text class="a" transform="translate(315.10,106.60) scale(1.014,1.847)" x="-0.25">A</text>
<text class="c" transform="translate(322.10,106.60) scale(1.040,1.847)" x="-0.41">C</text>
<text class="a" transform="translate(329.10,100.05) scale(1.014,0.857)" x="-0.25">A</text>
<text class="t" transform="translate(329.10,104.63) scale(1.155,0.666)" x="-0.11">T</text>
<text class="c" transform="translate(329.10,106.60) scale(1.040,0.286)" x="-0.41">C</text>
<text class="t" transform="translate(336.10,99.39) scale(1.155,0.762)" x="-0.11">T</text>
<text class="c" transform="translate(336.10,103.98) scale(1.040,0.666)" x="-0.41">C</text>
<text class="a" transform="translate(336.10,106.60) scale(1.014,0.381)" x="-0.25">A</text>
<text class="a" transform="translate(343.10,102.67) scale(1.014,1.238)" x="-0.25">A</text>
<text class="t" transform="translate(343.10,105.29) scale(1.155,0.381)" x="-0.11">T</text>
<text class="g" transform="translate(343.10,106.60) scale(1.008,0.190)" x="-0.41">G</text>
<text class="a" transform="translate(238.40,116.18) scale(1.017,0.842)" x="-0.25">A</text>
<text class="c" transform="translate(238.40,118.94) scale(1.043,0.401)" x="-0.41">C</text>
<text class="g" transform="translate(238.40,121.01) scale(1.011,0.301)" x="-0.41">G</text>
<text class="t" transform="translate(238.40,122.80) scale(1.158,0.261)" x="-0.11">T</text>
<text class="t" transform="translate(245.42,115.21) scale(1.158,0.702)" x="-0.11">T</text>
<text class="c" transform="translate(245.42,118.25) scale(1.043,0.441)" x="-0.41">C</text>
<text class="g" transform="translate(245.42,120.73) scale(1.011,0.361)" x="-0.41">G</text>
<text class="a" transform="translate(245.42,122.80) scale(1.017,0.301)" x="-0.25">A</text>
<text class="a" transform="translate(252.44,115.90) scale(1.017,0.802)" x="-0.25">A</text>
<text class="c" transform="translate(252.44,118.66) scale(1.043,0.401)" x="-0.41">C</text>
<text class="g" transform="translate(252.44,121.14) scale(1.011,0.361)" x="-0.41">G</text>
<text class="t" transform="translate(252.44,122.80) scale(1.158,0.241)" x="-0.11">T</text>
<text class="g" transform="translate(259.46,115.62) scale(1.011,0.802)" x="-0.41">G</text>
<text class="c" transform="translate(259.46,119.76) scale(1.043,0.602)" x="-0.41">C</text>
<text class="a" transform="translate(259.46,121.42) scale(1.017,0.241)" x="-0.25">A</text>
<text class="t" transform="translate(259.46,122.80) scale(1.158,0.201)" x="-0.11">T</text>
<text class="t" transform="translate(266.48,115.90) scale(1.158,0.903)" x="-0.11">T</text>
<text class="c" transform="translate(266.48,120.04) scale(1.043,0.602)" x="-0.41">C</text>
<text class="g" transform="translate(266.48,121.70) scale(1.011,0.241)" x="-0.41">G</text>
<text class="a" transform="translate(266.48,122.80) scale(1.017,0.160)" x="-0.25">A</text>
<text class="g" transform="translate(273.50,121.42) scale(1.011,1.705)" x="-0.41">G</text>
<text class="a" transform="translate(273.50,122.80) scale(1.017,0.201)" x="-0.25">A</text>
<text class="c" transform="translate(280.52,122.80) scale(1.043,1.946)" x="-0.41">C</text>
<text class="c" transform="translate(287.54,122.80) scale(1.043,1.946)" x="-0.41">C</text>
<text class="a" transform="translate(294.56,115.07) scale(1.017,0.842)" x="-0.25">A</text>
<text class="c" transform="translate(294.56,121.97) scale(1.043,1.003)" x="-0.41">C</text>
<text class="t" transform="translate(294.56,122.80) scale(1.158,0.120)" x="-0.11">T</text>
<text class="c" transform="translate(301.58,115.90) scale(1.043,0.903)" x="-0.41">C</text>
<text class="t" transform="translate(301.58,122.80) scale(1.158,1.003)" x="-0.11">T</text>
<text class="c" transform="translate(308.60,122.80) scale(1.043,1.946)" x="-0.41">C</text>
<text class="t" transform="translate(315.62,122.80) scale(1.158,1.865)" x="-0.11">T</text>
<text class="g" transform="translate(322.64,114.52) scale(1.011,0.602)" x="-0.41">G</text>
<text class="a" transform="translate(322.64,119.35) scale(1.017,0.702)" x="-0.25">A</text>
<text class="c" transform="translate(322.64,122.80) scale(1.043,0.501)" x="-0.41">C</text>
<text class="g" transform="translate(329.66,116.59) scale(1.011,1.003)" x="-0.41">G</text>
<text class="t" transform="translate(329.66,121.42) scale(1.158,0.702)" x="-0.11">T</text>
<text class="c" transform="translate(329.66,122.80) scale(1.043,0.201)" x="-0.41">C</text>
<text class="t" transform="translate(336.68,122.80) scale(1.158,1.865)" x="-0.11">T</text>
<text class="g" transform="translate(343.70,122.80) scale(1.011,1.906)" x="-0.41">G</text>
<text class="g" transform="translate(350.72,122.80) scale(1.011,1.865)" x="-0.41">G</text>
<text class="c" transform="translate(357.74,114.52) scale(1.043,0.702)" x="-0.41">C</text>
<text class="t" transform="translate(357.74,118.66) scale(1.158,0.602)" x="-0.11">T</text>
<text class="a" transform="translate(357.74,121.42) scale(1.017,0.401)" x="-0.25">A</text>
<text class="g" transform="translate(357.74,122.80) scale(1.011,0.201)" x="-0.41">G</text>
<text class="c" transform="translate(364.76,115.21) scale(1.043,0.702)" x="-0.41">C</text>
<text class="a" transform="translate(364.76,120.04) scale(1.017,0.702)" x="-0.25">A</text>
<text class="g" transform="translate(364.76,122.80) scale(1.011,0.401)" x="-0.41">G</text>
<text class="a" transform="translate(371.78,117.97) scale(1.017,1.103)" x="-0.25">A</text>
<text class="c" transform="translate(371.78,120.73) scale(1.043,0.401)" x="-0.41">C</text>
<text class="g" transform="translate(371.78,122.80) scale(1.011,0.301)" x="-0.41">G</text>
<text class="a" transform="translate(281.00,135.79) scale(0.996,1.558)" x="-0.25">A</text>
<text class="t" transform="translate(281.00,138.20) scale(1.134,0.351)" x="-0.11">T</text>
<text class="g" transform="translate(287.88,138.20) scale(0.990,1.948)" x="-0.41">G</text>
<text class="a" transform="translate(294.76,138.20) scale(0.996,1.948)" x="-0.25">A</text>
<text class="t" transform="translate(301.64,138.20) scale(1.134,1.948)" x="-0.11">T</text>
<text class="a" transform="translate(308.52,138.20) scale(0.996,1.948)" x="-0.25">A</text>
<text class="a" transform="translate(315.40,137.13) scale(0.996,1.753)" x="-0.25">A</text>
<text class="g" transform="translate(315.40,138.20) scale(0.990,0.156)" x="-0.41">G</text>
<text class="c" transform="translate(322.28,129.89) scale(1.022,0.643)" x="-0.41">C</text>
<text class="a" transform="translate(322.28,133.91) scale(0.996,0.584)" x="-0.25">A</text>
<text class="g" transform="translate(322.28,138.20) scale(0.990,0.623)" x="-0.41">G</text>
<text class="a" transform="translate(329.16,131.23) scale(0.996,0.876)" x="-0.25">A</text>
<text class="g" transform="translate(329.16,135.92) scale(0.990,0.682)" x="-0.41">G</text>
<text class="c" transform="translate(329.16,138.20) scale(1.022,0.331)" x="-0.41">C</text>
<text class="g" transform="translate(266.00,179.16) scale(1.020,0.606)" x="-0.41">G</text>
<text class="a" transform="translate(266.00,183.33) scale(1.025,0.606)" x="-0.25">A</text>
<text class="t" transform="translate(266.00,186.11) scale(1.168,0.404)" x="-0.11">T</text>
<text class="c" transform="translate(266.00,188.20) scale(1.052,0.303)" x="-0.41">C</text>
<text class="a" transform="translate(273.08,181.94) scale(1.025,1.010)" x="-0.25">A</text>
<text class="t" transform="translate(273.08,184.72) scale(1.168,0.404)" x="-0.11">T</text>
<text class="g" transform="translate(273.08,186.81) scale(1.020,0.303)" x="-0.41">G</text>
<text class="c" transform="translate(273.08,188.20) scale(1.052,0.202)" x="-0.41">C</text>
<text class="t" transform="translate(280.16,188.20) scale(1.168,2.020)" x="-0.11">T</text>
<text class="g" transform="translate(287.24,188.20) scale(1.020,2.020)" x="-0.41">G</text>
<text class="a" transform="translate(294.32,188.20) scale(1.025,2.020)" x="-0.25">A</text>
<text class="c" transform="translate(301.40,181.25) scale(1.052,0.909)" x="-0.41">C</text>
<text class="g" transform="translate(301.40,188.20) scale(1.020,1.010)" x="-0.41">G</text>
<text class="t" transform="translate(308.48,188.20) scale(1.168,2.020)" x="-0.11">T</text>
<text class="c" transform="translate(315.56,188.20) scale(1.052,2.020)" x="-0.41">C</text>
<text class="a" transform="translate(322.64,188.20) scale(1.025,2.020)" x="-0.25">A</text>
<text class="t" transform="translate(329.72,181.94) scale(1.168,1.010)" x="-0.11">T</text>
<text class="c" transform="translate(329.72,185.42) scale(1.052,0.505)" x="-0.41">C</text>
<text class="g" transform="translate(329.72,188.20) scale(1.020,0.404)" x="-0.41">G</text>
<text class="c" transform="translate(336.80,179.86) scale(1.052,0.707)" x="-0.41">C</text>
<text class="a" transform="translate(336.80,184.03) scale(1.025,0.606)" x="-0.25">A</text>
<text class="t" transform="translate(336.80,186.81) scale(1.168,0.404)" x="-0.11">T</text>
<text class="g" transform="translate(336.80,188.20) scale(1.020,0.202)" x="-0.41">G</text>
<text class="c" transform="translate(343.88,179.16) scale(1.052,0.606)" x="-0.41">C</text>
<text class="a" transform="translate(343.88,183.33) scale(1.025,0.606)" x="-0.25">A</text>
<text class="t" transform="translate(343.88,186.11) scale(1.168,0.404)" x="-0.11">T</text>
<text class="g" transform="translate(343.88,188.20) scale(1.020,0.303)" x="-0.41">G</text>
<text class="g" transform="translate(266.00,194.29) scale(1.020,0.584)" x="-0.41">G</text>
<text class="t" transform="translate(266.00,197.64) scale(1.168,0.487)" x="-0.11">T</text>
<text class="a" transform="translate(266.00,200.99) scale(1.025,0.487)" x="-0.25">A</text>
<text class="c" transform="translate(266.00,203.00) scale(1.052,0.292)" x="-0.41">C</text>
<text class="g" transform="translate(273.08,194.29) scale(1.020,0.584)" x="-0.41">G</text>
<text class="a" transform="translate(273.08,198.98) scale(1.025,0.682)" x="-0.25">A</text>
<text class="c" transform="translate(273.08,201.66) scale(1.052,0.390)" x="-0.41">C</text>
<text class="t" transform="translate(273.08,203.00) scale(1.168,0.195)" x="-0.11">T</text>
<text class="a" transform="translate(280.16,197.64) scale(1.025,1.071)" x="-0.25">A</text>
<text class="t" transform="translate(280.16,200.99) scale(1.168,0.487)" x="-0.11">T</text>
<text class="g" transform="translate(280.16,202.33) scale(1.020,0.195)" x="-0.41">G</text>
<text class="c" transform="translate(280.16,203.00) scale(1.052,0.097)" x="-0.41">C</text>
<text class="t" transform="translate(287.24,203.00) scale(1.168,1.948)" x="-0.11">T</text>
<text class="g" transform="translate(294.32,201.93) scale(1.020,1.753)" x="-0.41">G</text>
<text class="t" transform="translate(294.32,203.00) scale(1.168,0.156)" x="-0.11">T</text>
<text class="a" transform="translate(301.40,203.00) scale(1.025,1.948)" x="-0.25">A</text>
<text class="g" transform="translate(308.48,196.30) scale(1.020,0.876)" x="-0.41">G</text>
<text class="c" transform="translate(308.48,203.00) scale(1.052,0.974)" x="-0.41">C</text>
<text class="t" transform="translate(315.56,203.00) scale(1.168,1.948)" x="-0.11">T</text>
<text class="c" transform="translate(322.64,203.00) scale(1.052,1.948)" x="-0.41">C</text>
<text class="a" transform="translate(329.72,203.00) scale(1.025,1.948)" x="-0.25">A</text>
<text class="t" transform="translate(336.80,196.97) scale(1.168,0.974)" x="-0.11">T</text>
<text class="c" transform="translate(336.80,200.99) scale(1.052,0.584)" x="-0.41">C</text>
<text class="g" transform="translate(336.80,203.00) scale(1.020,0.292)" x="-0.41">G</text>
<text class="c" transform="translate(343.88,196.30) scale(1.052,0.779)" x="-0.41">C</text>
<text class="a" transform="translate(343.88,200.32) scale(1.025,0.584)" x="-0.25">A</text>
<text class="t" transform="translate(343.88,203.00) scale(1.168,0.390)" x="-0.11">T</text>
<text class="t" transform="translate(274.50,210.64) scale(1.163,0.692)" x="-0.11">T</text>
<text class="a" transform="translate(274.50,214.72) scale(1.021,0.593)" x="-0.25">A</text>
<text class="g" transform="translate(274.50,217.44) scale(1.015,0.395)" x="-0.41">G</text>
<text class="c" transform="translate(274.50,218.80) scale(1.048,0.198)" x="-0.41">C</text>
<text class="a" transform="translate(281.55,212.68) scale(1.021,0.890)" x="-0.25">A</text>
<text class="c" transform="translate(281.55,216.08) scale(1.048,0.494)" x="-0.41">C</text>
<text class="t" transform="translate(281.55,218.80) scale(1.163,0.395)" x="-0.11">T</text>
<text class="t" transform="translate(288.60,218.80) scale(1.163,1.977)" x="-0.11">T</text>
<text class="g" transform="translate(295.65,218.80) scale(1.015,1.977)" x="-0.41">G</text>
<text class="a" transform="translate(302.70,218.80) scale(1.021,1.977)" x="-0.25">A</text>
<text class="g" transform="translate(309.75,211.32) scale(1.015,0.791)" x="-0.41">G</text>
<text class="c" transform="translate(309.75,218.80) scale(1.048,1.087)" x="-0.41">C</text>
<text class="t" transform="translate(316.80,218.80) scale(1.163,1.977)" x="-0.11">T</text>
<text class="c" transform="translate(323.85,218.80) scale(1.048,1.977)" x="-0.41">C</text>
<text class="a" transform="translate(330.90,218.80) scale(1.021,1.977)" x="-0.25">A</text>
<text class="t" transform="translate(337.95,213.36) scale(1.163,1.087)" x="-0.11">T</text>
<text class="c" transform="translate(337.95,216.35) scale(1.048,0.435)" x="-0.41">C</text>
<text class="g" transform="translate(337.95,218.80) scale(1.015,0.356)" x="-0.41">G</text>
<text class="g" transform="translate(274.50,225.36) scale(1.015,0.593)" x="-0.41">G</text>
<text class="a" transform="translate(274.50,229.44) scale(1.021,0.593)" x="-0.25">A</text>
<text class="t" transform="translate(274.50,232.84) scale(1.163,0.494)" x="-0.11">T</text>
<text class="c" transform="translate(274.50,234.20) scale(1.048,0.198)" x="-0.41">C</text>
<text class="a" transform="translate(281.55,228.76) scale(1.021,0.988)" x="-0.25">A</text>
<text class="t" transform="translate(281.55,232.16) scale(1.163,0.494)" x="-0.11">T</text>
<text class="c" transform="translate(281.55,234.20) scale(1.048,0.297)" x="-0.41">C</text>
<text class="t" transform="translate(288.60,234.20) scale(1.163,1.977)" x="-0.11">T</text>
<text class="g" transform="translate(295.65,234.20) scale(1.015,1.977)" x="-0.41">G</text>
<text class="a" transform="translate(302.70,234.20) scale(1.021,1.977)" x="-0.25">A</text>
<text class="c" transform="translate(309.75,228.08) scale(1.048,0.988)" x="-0.41">C</text>
<text class="g" transform="translate(309.75,234.20) scale(1.015,0.890)" x="-0.41">G</text>
<text class="t" transform="translate(316.80,234.20) scale(1.163,1.977)" x="-0.11">T</text>
<text class="c" transform="translate(323.85,234.20) scale(1.048,1.977)" x="-0.41">C</text>
<text class="a" transform="translate(330.90,234.20) scale(1.021,1.977)" x="-0.25">A</text>
<text class="t" transform="translate(337.95,228.76) scale(1.163,1.087)" x="-0.11">T</text>
<text class="c" transform="translate(337.95,232.84) scale(1.048,0.593)" x="-0.41">C</text>
<text class="g" transform="translate(337.95,234.20) scale(1.015,0.198)" x="-0.41">G</text>
<text class="g" transform="translate(266.00,240.76) scale(1.020,0.593)" x="-0.41">G</text>
<text class="a" transform="translate(266.00,244.84) scale(1.025,0.593)" x="-0.25">A</text>
<text class="t" transform="translate(266.00,247.56) scale(1.168,0.395)" x="-0.11">T</text>
<text class="c" transform="translate(266.00,249.60) scale(1.052,0.297)" x="-0.41">C</text>
<text class="g" transform="translate(273.08,242.12) scale(1.020,0.593)" x="-0.41">G</text>
<text class="a" transform="translate(273.08,246.88) scale(1.025,0.692)" x="-0.25">A</text>
<text class="c" transform="translate(273.08,249.60) scale(1.052,0.395)" x="-0.41">C</text>
<text class="a" transform="translate(280.16,244.57) scale(1.025,1.087)" x="-0.25">A</text>
<text class="t" transform="translate(280.16,247.97) scale(1.168,0.494)" x="-0.11">T</text>
<text class="g" transform="translate(280.16,249.60) scale(1.020,0.237)" x="-0.41">G</text>
<text class="t" transform="translate(287.24,249.60) scale(1.168,1.977)" x="-0.11">T</text>
<text class="g" transform="translate(294.32,249.60) scale(1.020,1.977)" x="-0.41">G</text>
<text class="a" transform="translate(301.40,249.60) scale(1.025,1.977)" x="-0.25">A</text>
<text class="c" transform="translate(308.48,245.93) scale(1.052,1.384)" x="-0.41">C</text>
<text class="g" transform="translate(308.48,249.60) scale(1.020,0.534)" x="-0.41">G</text>
<text class="t" transform="translate(315.56,249.60) scale(1.168,1.977)" x="-0.11">T</text>
<text class="c" transform="translate(322.64,249.60) scale(1.052,1.977)" x="-0.41">C</text>
<text class="a" transform="translate(329.72,249.60) scale(1.025,1.977)" x="-0.25">A</text>
<text class="t" transform="translate(336.80,244.16) scale(1.168,0.988)" x="-0.11">T</text>
<text class="c" transform="translate(336.80,249.60) scale(1.052,0.791)" x="-0.41">C</text>
<text class="c" transform="translate(343.88,242.12) scale(1.052,0.791)" x="-0.41">C</text>
<text class="a" transform="translate(343.88,246.20) scale(1.025,0.593)" x="-0.25">A</text>
<text class="t" transform="translate(343.88,249.60) scale(1.168,0.494)" x="-0.11">T</text>
</g>
<g id="panelD">
<text x="263.50" y="314.20" font-size="12.8" font-weight="bold" fill="#000" stroke="#000" stroke-width="0.2">D</text>
<text x="396.30" y="323.30" font-size="8.7" text-anchor="middle" font-weight="bold" fill="#231f20" stroke="#231f20" stroke-width="0.15">Depleted</text>
<text x="468.50" y="323.30" font-size="8.7" text-anchor="middle" font-weight="bold" fill="#231f20" stroke="#231f20" stroke-width="0.15">Enriched</text>
<line x1="365.00" y1="328.00" x2="430.70" y2="328.00" stroke="#000" stroke-width="1.2"/>
<line x1="432.70" y1="328.00" x2="499.00" y2="328.00" stroke="#000" stroke-width="1.2"/>
<path d="M360.3 328 L366.8 324.7 V331.3 Z" fill="#000"/>
<path d="M503.7 328 L497.2 324.7 V331.3 Z" fill="#000"/>
<rect x="431.60" y="334.60" width="46.90" height="8.50" fill="#0d1b4c"/>
<text x="429.60" y="341.60" font-size="7.75" text-anchor="end" fill="#231f20" stroke="#231f20" stroke-width="0.15">Cell differentiation involved in kidney development</text>
<rect x="431.60" y="347.02" width="46.70" height="8.50" fill="#0d1b4c"/>
<text x="429.60" y="354.02" font-size="7.75" text-anchor="end" fill="#231f20" stroke="#231f20" stroke-width="0.15">Prostate gland development</text>
<rect x="431.60" y="359.44" width="41.30" height="8.50" fill="#0d1b4c"/>
<text x="430.80" y="366.44" font-size="7.75" text-anchor="end" fill="#231f20" stroke="#231f20" stroke-width="0.15">Glomerulus development</text>
<rect x="431.60" y="371.86" width="37.30" height="8.50" fill="#1b6fbe"/>
<text x="429.60" y="378.86" font-size="7.75" text-anchor="end" fill="#231f20" stroke="#231f20" stroke-width="0.15">Renal tubule morphogenesis</text>
<rect x="431.60" y="384.28" width="37.30" height="8.50" fill="#1b6fbe"/>
<text x="429.60" y="391.28" font-size="7.75" text-anchor="end" fill="#231f20" stroke="#231f20" stroke-width="0.15">Embryonic digit morphogenesis</text>
<rect x="431.60" y="396.70" width="37.10" height="8.50" fill="#1b6fbe"/>
<text x="429.60" y="403.70" font-size="7.75" text-anchor="end" fill="#231f20" stroke="#231f20" stroke-width="0.15">Kidney morphogenesis</text>
<rect x="431.60" y="409.12" width="36.20" height="8.50" fill="#1b6fbe"/>
<text x="429.60" y="416.12" font-size="7.75" text-anchor="end" fill="#231f20" stroke="#231f20" stroke-width="0.15">Nephron tubule morphogenesis</text>
<rect x="431.60" y="421.54" width="44.10" height="8.50" fill="#27aae1"/>
<text x="429.60" y="428.54" font-size="7.75" text-anchor="end" fill="#231f20" stroke="#231f20" stroke-width="0.15">Regulation of p38MAPK cascade</text>
<rect x="431.60" y="433.96" width="23.50" height="8.50" fill="#27aae1"/>
<text x="429.60" y="440.96" font-size="7.75" text-anchor="end" fill="#231f20" stroke="#231f20" stroke-width="0.15">Negative regulation of Wnt signaling pathway</text>
<rect x="286.20" y="446.38" width="145.40" height="8.50" fill="#fbb81c"/>
<text x="433.80" y="453.38" font-size="7.8" fill="#231f20" stroke="#231f20" stroke-width="0.15">Phagocytosis,recognition</text>
<rect x="367.30" y="458.80" width="64.30" height="8.50" fill="#fbb81c"/>
<text x="433.80" y="465.80" font-size="7.8" fill="#231f20" stroke="#231f20" stroke-width="0.15">B-cell receptor signaling</text>
<rect x="378.70" y="471.22" width="52.90" height="8.50" fill="#fbb81c"/>
<text x="433.80" y="478.22" font-size="7.8" fill="#231f20" stroke="#231f20" stroke-width="0.15">Complement activation</text>
<rect x="381.70" y="483.64" width="49.90" height="8.50" fill="#fbb81c"/>
<text x="433.80" y="490.64" font-size="7.8" fill="#231f20" stroke="#231f20" stroke-width="0.15">Humoral Imm. response</text>
<rect x="395.00" y="496.06" width="36.60" height="8.50" fill="#ed1c24"/>
<text x="433.80" y="503.06" font-size="7.8" fill="#231f20" stroke="#231f20" stroke-width="0.15">Detection chem. stim.</text>
<path d="M285.7 503.7 V506.1 H505.2 V499.8 M358.6 503.7 V506.1 M431.6 503.7 V506.1" fill="none" stroke="#231f20" stroke-width="0.9"/>
<text x="285.20" y="517.70" font-size="9.4" text-anchor="middle" fill="#3a3a3a" stroke="#3a3a3a" stroke-width="0.25" stroke="none">−4</text>
<text x="358.20" y="517.70" font-size="9.4" text-anchor="middle" fill="#3a3a3a" stroke="#3a3a3a" stroke-width="0.25" stroke="none">−2</text>
<text x="431.60" y="517.70" font-size="9.4" text-anchor="middle" fill="#3a3a3a" stroke="#3a3a3a" stroke-width="0.25" stroke="none">0</text>
<text x="504.50" y="517.70" font-size="9.4" text-anchor="middle" fill="#3a3a3a" stroke="#3a3a3a" stroke-width="0.25" stroke="none">2</text>
<text x="398.30" y="531.00" font-size="9.6" text-anchor="middle" font-weight="bold" fill="#231f20" stroke="#231f20" stroke-width="0.2">Log2 fold enrichment</text>
<circle cx="270.5" cy="550.6" r="5.3" fill="#0d1b4c"/>
<text x="279.40" y="554.00" font-size="9.8" fill="#231f20" stroke="#231f20" stroke-width="0.25">Differentiation/development</text>
<circle cx="270.5" cy="563.9" r="5.3" fill="#1b6fbe"/>
<text x="279.40" y="567.40" font-size="9.8" fill="#231f20" stroke="#231f20" stroke-width="0.25">Morphogenesis</text>
<circle cx="270.5" cy="577.1" r="5.3" fill="#27aae1"/>
<text x="279.40" y="580.70" font-size="9.8" fill="#231f20" stroke="#231f20" stroke-width="0.25">Signaling regulation</text>
<circle cx="426.6" cy="550.6" r="5.3" fill="#fbb81c"/>
<text x="434.70" y="554.00" font-size="9.8" fill="#231f20" stroke="#231f20" stroke-width="0.25">Immune</text>
<circle cx="426.6" cy="563.9" r="5.3" fill="#ed1c24"/>
<text x="434.70" y="567.40" font-size="9.8" fill="#231f20" stroke="#231f20" stroke-width="0.25">Stimulus detection</text>
</g>
</svg>
</body>
</html>
